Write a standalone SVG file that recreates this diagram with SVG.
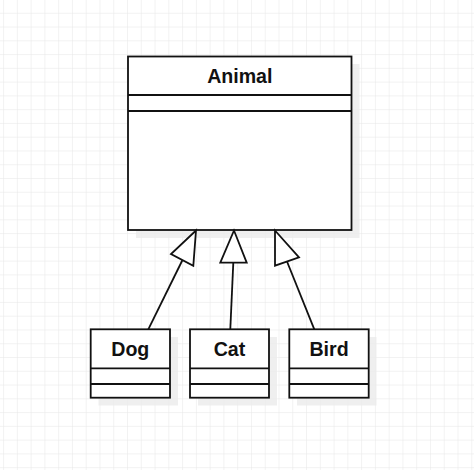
<svg xmlns="http://www.w3.org/2000/svg" width="474" height="470" viewBox="0 0 474 470">
<defs>
<pattern id="grid" x="3.1" y="-1" width="13.77" height="13.77" patternUnits="userSpaceOnUse">
<path d="M0 0 H13.77 M0 0 V13.77" fill="none" stroke="#e6e6e6" stroke-width="1"/>
</pattern>
</defs>
<style>
.box{fill:#fff;stroke:#111;stroke-width:1.8}
.shadow{fill:#ebebeb;opacity:0.8}
.sep{stroke:#111;stroke-width:1.8}
.label{font-family:"Liberation Sans",Arial,sans-serif;font-weight:bold;font-size:19.6px;fill:#111;text-anchor:middle}
.edge{fill:none;stroke:#111;stroke-width:1.8}
.head{fill:#fff;stroke:#111;stroke-width:1.8;stroke-linejoin:miter}
</style>
<rect width="474" height="470" fill="#fff"/>
<rect width="474" height="470" fill="url(#grid)"/>
<g id="Animal">
<rect class="shadow" x="136" y="64" width="223.5" height="174"/>
<rect class="box" x="128" y="56.5" width="223.5" height="173.5"/>
<line class="sep" x1="128" y1="95" x2="351.5" y2="95"/>
<line class="sep" x1="128" y1="111" x2="351.5" y2="111"/>
<text class="label" x="239.8" y="82.7">Animal</text>
</g>
<g id="Dog">
<rect class="shadow" x="98.5" y="337" width="79.5" height="68.5"/>
<rect class="box" x="90.7" y="329.3" width="79.3" height="68.4"/>
<line class="sep" x1="90.7" y1="368.3" x2="170" y2="368.3"/>
<line class="sep" x1="90.7" y1="384" x2="170" y2="384"/>
<text class="label" x="130.3" y="355.8">Dog</text>
</g>
<g id="Cat">
<rect class="shadow" x="198" y="337" width="79" height="68.5"/>
<rect class="box" x="190" y="329.3" width="79" height="68.4"/>
<line class="sep" x1="190" y1="368.3" x2="269" y2="368.3"/>
<line class="sep" x1="190" y1="384" x2="269" y2="384"/>
<text class="label" x="229.5" y="355.8">Cat</text>
</g>
<g id="Bird">
<rect class="shadow" x="297" y="337" width="79.5" height="68.5"/>
<rect class="box" x="289.3" y="329.3" width="79.4" height="68.4"/>
<line class="sep" x1="289.3" y1="368.3" x2="368.7" y2="368.3"/>
<line class="sep" x1="289.3" y1="384" x2="368.7" y2="384"/>
<text class="label" x="329" y="355.8">Bird</text>
</g>
<g id="connectors">
<line class="edge" x1="148.3" y1="329.3" x2="182.5" y2="260"/>
<polygon class="head" points="196,230.5 171,254 193.3,265.7"/>
<line class="edge" x1="230.3" y1="329.3" x2="233.3" y2="262.7"/>
<polygon class="head" points="234,230.5 220.3,262.7 246.7,262.7"/>
<line class="edge" x1="314.3" y1="329.3" x2="287" y2="261.5"/>
<polygon class="head" points="275,230.5 275,265.7 299,257.3"/>
</g>
</svg>
